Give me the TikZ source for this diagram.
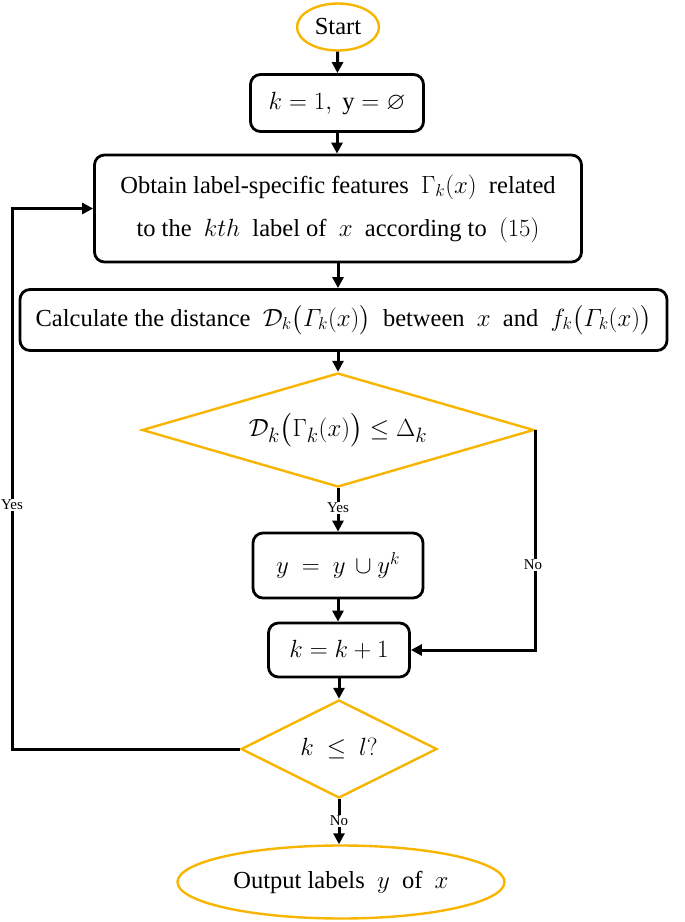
\documentclass[tikz,border=0pt]{standalone}
\usepackage{fontspec}
\setmainfont{Liberation Serif}
\usepackage{amsmath,amssymb}
\usetikzlibrary{shapes.geometric,arrows.meta}
\definecolor{gold}{RGB}{247,181,0}
\begin{document}
\begin{tikzpicture}[x=1pt,y=-1pt,
  every node/.style={font=\fontsize{24.5}{30}\selectfont, inner sep=0pt},
  procbox/.style={draw=black, line width=2.8pt, rounded corners=10pt, rectangle, align=center},
  termnode/.style={draw=gold, line width=2.4pt, ellipse},
  decnode/.style={draw=gold, line width=2.4pt, diamond},
  flow/.style={line width=3pt, -{Triangle[length=11pt,width=11pt]}},
  lbl/.style={fill=white, font=\fontsize{15}{18}\selectfont, inner sep=1.5pt}]
\useasboundingbox (0,0) rectangle (685,922);

\node[termnode, minimum width=82pt, minimum height=47pt] (start) at (338,27) {Start};
\node[procbox, minimum width=173pt, minimum height=57pt] (init) at (337,103) {$k=1,\ \mathrm{y}=\varnothing$};
\node[procbox, minimum width=487pt, minimum height=107pt] (obtain) at (338,208.5) {Obtain label-specific features \ $\Gamma_k(x)$ \ related\\[13pt] to the \ $kth$ \ label of \ $x$ \ according to \ $(15)$};
\node[procbox, minimum width=647pt, minimum height=61pt] (calc) at (343.5,320) {Calculate the distance \ $\mathcal{D}_k\big(\varGamma_k(x)\big)$ \ between \ $x$ \ and \ $f_k\big(\varGamma_k(x)\big)$};
\node[decnode, aspect=3.44, minimum width=392pt, minimum height=114pt, font=\fontsize{28}{32}\selectfont] (dec1) at (338,430) {$\mathcal{D}_k\big(\Gamma_k(x)\big)\le\Delta_k$};
\node[procbox, minimum width=170pt, minimum height=65pt] (union) at (338,565.5) {$y\ =\ y\,\cup y^k$};
\node[procbox, minimum width=141pt, minimum height=54pt] (incr) at (339,650) {$k=k+1$};
\node[decnode, aspect=2, minimum width=196pt, minimum height=98pt] (dec2) at (339,749) {$k\ \le\ l?$};
\node[termnode, minimum width=327pt, minimum height=73pt] (out) at (341,882) {Output labels \ $y$ \ of \ $x$};

\draw[flow] (start) -- (init);
\draw[flow] (init.south) -- (init.south |- obtain.north);
\draw[flow] (obtain.south) -- (obtain.south |- calc.north);
\draw[flow] (calc.south -| dec1.north) -- (dec1.north);
\draw[flow] (dec1.south) -- (dec1.south |- union.north);
\draw[flow] (union.south) -- (union.south |- incr.north);
\draw[flow] (incr.south) -- (dec2.north);
\draw[flow] (dec2.south) -- (dec2.south |- out.north);
\draw[flow] (dec1.east) |- (incr.east);
\coordinate (lp) at (12,749);
\draw[flow] (dec2.west) -- (lp) |- (obtain.west);

\node[lbl] (yes1) at (338,508) {Yes};
\node[lbl] (no1) at (533,565) {No};
\node[lbl] (yes2) at (12,505) {Yes};
\node[lbl] (no2) at (339,821) {No};
\end{tikzpicture}
\end{document}
